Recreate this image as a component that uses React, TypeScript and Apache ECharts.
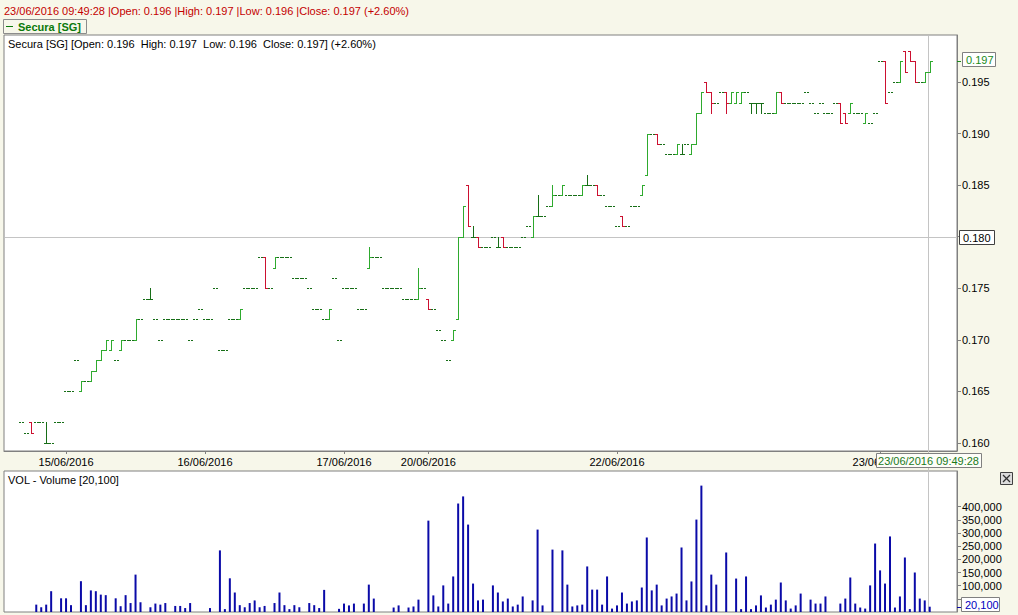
import React, { useEffect, useRef } from 'react';
import * as echarts from 'echarts';

// ---------- data ----------
const dayLabels = ['15/06/2016', '16/06/2016', '17/06/2016', '20/06/2016', '22/06/2016', '23/06/2016'];
const dayStartSlots = [9, 37, 65, 82, 120, 173];

const opens = [
  0.162, 0.161, 0.162, 0.162, 0.162, 0.160, 0.160, 0.162, 0.162, 0.165,
  0.165, 0.168, 0.165, 0.166, 0.166, 0.167, 0.168, 0.169, 0.169, 0.168,
  0.169, 0.170, 0.170, 0.170, 0.172, 0.174, 0.174, 0.172, 0.170, 0.172,
  0.172, 0.172, 0.172, 0.172, 0.170, 0.172, 0.173, 0.172, 0.172, 0.175,
  0.169, 0.169, 0.172, 0.172, 0.172, 0.175, 0.175, 0.175, 0.178, 0.178,
  0.175, 0.177, 0.178, 0.178, 0.178, 0.176, 0.176, 0.176, 0.175, 0.173,
  0.173, 0.172, 0.172, 0.176, 0.170, 0.175, 0.175, 0.175, 0.173, 0.173,
  0.177, 0.178, 0.178, 0.175, 0.175, 0.175, 0.175, 0.174, 0.174, 0.174,
  0.174, 0.175, 0.174, 0.173, 0.171, 0.170, 0.168, 0.170, 0.172, 0.180,
  0.185, 0.180, 0.180, 0.179, 0.179, 0.180, 0.179, 0.180, 0.179, 0.179,
  0.179, 0.180, 0.181, 0.180, 0.182, 0.182, 0.183, 0.183, 0.184, 0.184,
  0.184, 0.184, 0.184, 0.184, 0.185, 0.185, 0.185, 0.184, 0.183, 0.183,
  0.181, 0.182, 0.181, 0.183, 0.183, 0.184, 0.186, 0.190, 0.190, 0.189,
  0.188, 0.188, 0.188, 0.188, 0.189, 0.188, 0.189, 0.192, 0.195, 0.194,
  0.193, 0.194, 0.194, 0.193, 0.193, 0.193, 0.194, 0.193, 0.193, 0.193,
  0.192, 0.192, 0.192, 0.194, 0.193, 0.193, 0.193, 0.193, 0.194, 0.193,
  0.192, 0.193, 0.192, 0.192, 0.193, 0.193, 0.192, 0.192, 0.192, 0.192,
  0.191, 0.191, 0.192, 0.197, 0.197, 0.194, 0.195, 0.195, 0.198, 0.198,
  0.197, 0.195, 0.195, 0.196,
];
const highs = [
  0.162, 0.161, 0.162, 0.162, 0.162, 0.162, 0.160, 0.162, 0.162, 0.165,
  0.165, 0.168, 0.166, 0.166, 0.167, 0.168, 0.169, 0.170, 0.170, 0.168,
  0.170, 0.170, 0.170, 0.172, 0.172, 0.174, 0.175, 0.172, 0.170, 0.172,
  0.172, 0.172, 0.172, 0.172, 0.170, 0.172, 0.173, 0.172, 0.172, 0.175,
  0.169, 0.169, 0.172, 0.172, 0.173, 0.175, 0.175, 0.175, 0.178, 0.178,
  0.175, 0.178, 0.178, 0.178, 0.178, 0.176, 0.176, 0.176, 0.175, 0.173,
  0.173, 0.172, 0.173, 0.176, 0.170, 0.175, 0.175, 0.175, 0.173, 0.173,
  0.179, 0.178, 0.178, 0.175, 0.175, 0.175, 0.175, 0.174, 0.174, 0.174,
  0.177, 0.175, 0.174, 0.173, 0.171, 0.170, 0.168, 0.171, 0.180, 0.183,
  0.185, 0.181, 0.180, 0.179, 0.179, 0.180, 0.180, 0.180, 0.179, 0.179,
  0.179, 0.180, 0.181, 0.182, 0.184, 0.182, 0.183, 0.185, 0.184, 0.185,
  0.184, 0.184, 0.184, 0.185, 0.186, 0.185, 0.185, 0.184, 0.183, 0.183,
  0.181, 0.182, 0.181, 0.183, 0.183, 0.185, 0.190, 0.190, 0.190, 0.189,
  0.188, 0.188, 0.189, 0.189, 0.189, 0.189, 0.192, 0.194, 0.195, 0.194,
  0.193, 0.194, 0.194, 0.194, 0.194, 0.194, 0.194, 0.193, 0.193, 0.193,
  0.192, 0.192, 0.194, 0.194, 0.193, 0.193, 0.193, 0.193, 0.194, 0.193,
  0.192, 0.193, 0.192, 0.192, 0.193, 0.193, 0.192, 0.193, 0.192, 0.192,
  0.192, 0.191, 0.192, 0.197, 0.197, 0.194, 0.195, 0.197, 0.198, 0.198,
  0.197, 0.195, 0.196, 0.197,
];
const lows = [
  0.162, 0.161, 0.161, 0.162, 0.162, 0.160, 0.160, 0.162, 0.162, 0.165,
  0.165, 0.168, 0.165, 0.166, 0.166, 0.167, 0.168, 0.169, 0.169, 0.168,
  0.169, 0.170, 0.170, 0.170, 0.172, 0.174, 0.174, 0.172, 0.170, 0.172,
  0.172, 0.172, 0.172, 0.172, 0.170, 0.172, 0.173, 0.172, 0.172, 0.175,
  0.169, 0.169, 0.172, 0.172, 0.172, 0.175, 0.175, 0.175, 0.178, 0.175,
  0.175, 0.177, 0.178, 0.178, 0.178, 0.176, 0.176, 0.176, 0.175, 0.173,
  0.173, 0.172, 0.172, 0.176, 0.170, 0.175, 0.175, 0.175, 0.173, 0.173,
  0.177, 0.178, 0.178, 0.175, 0.175, 0.175, 0.175, 0.174, 0.174, 0.174,
  0.174, 0.175, 0.173, 0.173, 0.171, 0.170, 0.168, 0.170, 0.172, 0.180,
  0.181, 0.180, 0.179, 0.179, 0.179, 0.180, 0.179, 0.179, 0.179, 0.179,
  0.179, 0.180, 0.181, 0.180, 0.182, 0.182, 0.183, 0.183, 0.184, 0.184,
  0.184, 0.184, 0.184, 0.184, 0.185, 0.185, 0.184, 0.184, 0.183, 0.183,
  0.181, 0.181, 0.181, 0.183, 0.183, 0.184, 0.186, 0.190, 0.189, 0.189,
  0.188, 0.188, 0.188, 0.188, 0.189, 0.188, 0.189, 0.192, 0.194, 0.192,
  0.193, 0.194, 0.192, 0.193, 0.193, 0.193, 0.194, 0.192, 0.192, 0.192,
  0.192, 0.192, 0.192, 0.193, 0.193, 0.193, 0.193, 0.193, 0.194, 0.193,
  0.192, 0.193, 0.192, 0.192, 0.193, 0.191, 0.191, 0.192, 0.192, 0.192,
  0.191, 0.191, 0.192, 0.197, 0.193, 0.194, 0.195, 0.195, 0.196, 0.197,
  0.195, 0.195, 0.195, 0.196,
];
const closes = [
  0.162, 0.161, 0.161, 0.162, 0.162, 0.160, 0.160, 0.162, 0.162, 0.165,
  0.165, 0.168, 0.166, 0.166, 0.167, 0.168, 0.169, 0.170, 0.170, 0.168,
  0.170, 0.170, 0.170, 0.172, 0.172, 0.174, 0.174, 0.172, 0.170, 0.172,
  0.172, 0.172, 0.172, 0.172, 0.170, 0.172, 0.173, 0.172, 0.172, 0.175,
  0.169, 0.169, 0.172, 0.172, 0.173, 0.175, 0.175, 0.175, 0.178, 0.175,
  0.175, 0.178, 0.178, 0.178, 0.178, 0.176, 0.176, 0.176, 0.175, 0.173,
  0.173, 0.172, 0.173, 0.176, 0.170, 0.175, 0.175, 0.175, 0.173, 0.173,
  0.178, 0.178, 0.178, 0.175, 0.175, 0.175, 0.175, 0.174, 0.174, 0.174,
  0.175, 0.175, 0.173, 0.173, 0.171, 0.170, 0.168, 0.171, 0.180, 0.183,
  0.181, 0.180, 0.179, 0.179, 0.179, 0.180, 0.179, 0.179, 0.179, 0.179,
  0.179, 0.180, 0.181, 0.182, 0.182, 0.182, 0.183, 0.184, 0.184, 0.185,
  0.184, 0.184, 0.184, 0.185, 0.185, 0.185, 0.184, 0.184, 0.183, 0.183,
  0.181, 0.181, 0.181, 0.183, 0.183, 0.185, 0.190, 0.190, 0.189, 0.189,
  0.188, 0.188, 0.189, 0.188, 0.189, 0.189, 0.192, 0.194, 0.194, 0.193,
  0.193, 0.194, 0.193, 0.194, 0.194, 0.194, 0.194, 0.193, 0.193, 0.193,
  0.192, 0.192, 0.194, 0.193, 0.193, 0.193, 0.193, 0.193, 0.194, 0.193,
  0.192, 0.193, 0.192, 0.192, 0.193, 0.191, 0.191, 0.193, 0.192, 0.192,
  0.192, 0.191, 0.192, 0.197, 0.193, 0.194, 0.195, 0.197, 0.196, 0.197,
  0.195, 0.195, 0.196, 0.197,
];
const volumes = [
  0, 0, 0, 28000, 18000, 28000, 79000, 0, 52000, 52000,
  26000, 0, 117000, 26000, 82000, 79000, 66000, 64000, 0, 52000,
  22000, 64000, 34000, 142000, 37000, 0, 18000, 32000, 28000, 34000,
  0, 23000, 23000, 15000, 34000, 0, 0, 0, 15000, 0,
  234000, 11000, 128000, 74000, 26000, 18000, 34000, 44000, 18000, 23000,
  0, 34000, 74000, 26000, 11000, 26000, 18000, 0, 34000, 26000,
  15000, 84000, 0, 0, 12000, 32000, 25000, 32000, 0, 32000,
  104000, 51000, 0, 0, 0, 17000, 25000, 0, 17000, 21000,
  47000, 0, 347000, 63000, 21000, 101000, 32000, 135000, 412000, 439000,
  332000, 108000, 44000, 47000, 0, 101000, 74000, 40000, 51000, 21000,
  28000, 59000, 0, 44000, 313000, 25000, 0, 237000, 0, 234000,
  104000, 21000, 25000, 28000, 173000, 85000, 85000, 28000, 135000, 13000,
  25000, 74000, 32000, 40000, 44000, 93000, 283000, 82000, 104000, 25000,
  51000, 59000, 70000, 245000, 44000, 116000, 351000, 480000, 25000, 142000,
  104000, 0, 226000, 0, 127000, 11000, 135000, 11000, 25000, 63000,
  17000, 28000, 47000, 112000, 44000, 13000, 25000, 70000, 0, 47000,
  32000, 32000, 59000, 0, 0, 32000, 51000, 131000, 32000, 17000,
  13000, 101000, 260000, 158000, 108000, 287000, 17000, 59000, 207000, 11000,
  150000, 51000, 44000, 20100,
];
const priceTicks = [0.16, 0.165, 0.17, 0.175, 0.18, 0.185, 0.19, 0.195];
const volumeTicks = [50000, 100000, 150000, 200000, 250000, 300000, 350000, 400000];
const volumeLabelTicks = [100000, 150000, 200000, 250000, 300000, 350000, 400000];
const lastTime = '23/06/2016 09:49:28';
const changePct = '+2.60%';
const crosshairPrice = 0.18;
const stockName = 'Secura [SG]';

// ---------- layout / style ----------
const LEAD = 3;
const TRAIL = 5;
const FONT = '"Liberation Sans", Arial, sans-serif';
const UP = '#2eaa2e';
const DOWN = '#cc1030';
const FLAT = '#176e17';

const N = LEAD + opens.length + TRAIL;
const dayStartCats = dayStartSlots.map((s) => s + LEAD);
const categories = Array.from({ length: N }, (_, c) => {
  const s = c - LEAD;
  let lab = '14/06/2016';
  dayStartSlots.forEach((d, k) => {
    if (s >= d) lab = dayLabels[k];
  });
  return lab;
});
const ohlcData = opens.map((o, i) => [i + LEAD, o, highs[i], lows[i], closes[i]]);
const volData = categories.map((_, c) => {
  const s = c - LEAD;
  return s >= 0 && s < volumes.length ? volumes[s] : null;
});
const fmtInt = (v: number) => String(Math.round(v)).replace(/\B(?=(\d{3})+(?!\d))/g, ',');

export default function App() {
  const ref = useRef<HTMLDivElement>(null);
  useEffect(() => {
    if (!ref.current) return;
    const chart = echarts.init(ref.current, undefined, { renderer: 'svg' });
    const last = opens.length - 1;
    const o = opens[last].toFixed(3), h = highs[last].toFixed(3), l = lows[last].toFixed(3), c = closes[last].toFixed(3);
    const header = `${lastTime} |Open: ${o} |High: ${h} |Low: ${l} |Close: ${c} (${changePct})`;
    const inner = `${stockName} [Open: ${o}  High: ${h}  Low: ${l}  Close: ${c}] (${changePct})`;

    chart.setOption({
      animation: false,
      backgroundColor: 'transparent',
      grid: [
        { left: 4, top: 35, width: 953, height: 416, show: true, backgroundColor: '#ffffff', borderColor: '#808080', borderWidth: 1 },
        { left: 4, top: 471, width: 953, height: 141, show: true, backgroundColor: '#ffffff', borderColor: '#808080', borderWidth: 1 },
      ],
      xAxis: [
        {
          type: 'category', gridIndex: 0, data: categories, boundaryGap: true,
          axisLine: { show: true, lineStyle: { color: '#808080' } },
          axisTick: { show: true, alignWithLabel: true, length: 3, lineStyle: { color: '#808080' }, interval: (i: number) => dayStartCats.includes(i) },
          axisLabel: { interval: (i: number) => dayStartCats.includes(i), color: '#000', fontSize: 11, fontFamily: FONT, margin: 5 },
          splitLine: { show: false },
        },
        {
          type: 'category', gridIndex: 1, data: categories, boundaryGap: true,
          axisLine: { show: false }, axisTick: { show: false }, axisLabel: { show: false }, splitLine: { show: false },
        },
      ],
      yAxis: [
        {
          type: 'value', gridIndex: 0, position: 'right', min: 0.159224, max: 0.199558, scale: true,
          axisLine: { show: true, lineStyle: { color: '#808080' } },
          axisTick: { show: true, length: 4, lineStyle: { color: '#808080' }, customValues: priceTicks },
          axisLabel: { color: '#000', fontSize: 11, fontFamily: FONT, margin: 5, customValues: priceTicks, formatter: (v: number) => v.toFixed(3) },
          splitLine: { show: false },
        },
        {
          type: 'value', gridIndex: 1, position: 'right', min: 0, max: 535500,
          axisLine: { show: true, lineStyle: { color: '#808080' } },
          axisTick: { show: true, length: 4, lineStyle: { color: '#808080' }, customValues: volumeTicks },
          axisLabel: { color: '#000', fontSize: 11, fontFamily: FONT, margin: 5, customValues: volumeLabelTicks, formatter: (v: number) => fmtInt(v) },
          splitLine: { show: false },
        },
      ],
      series: [
        {
          type: 'custom', xAxisIndex: 0, yAxisIndex: 0, clip: true,
          encode: { x: 0, y: [1, 2, 3, 4] },
          data: ohlcData,
          renderItem: (params: any, api: any) => {
            const ci = api.value(0);
            const vo = api.value(1), vh = api.value(2), vl = api.value(3), vc = api.value(4);
            const pO = api.coord([ci, vo]);
            const yH = api.coord([ci, vh])[1];
            const yL = api.coord([ci, vl])[1];
            const yC = api.coord([ci, vc])[1];
            const color = vc > vo + 1e-9 ? UP : vc < vo - 1e-9 ? DOWN : FLAT;
            const px = Math.round(pO[0]);
            const r = (v: number) => Math.round(v) + 0.5;
            const st = { stroke: color, lineWidth: 1 };
            const children: any[] = [];
            if (vh > vl + 1e-9) {
              children.push({ type: 'line', shape: { x1: px + 0.5, y1: Math.round(yH), x2: px + 0.5, y2: Math.round(yL) + 1 }, style: st });
            }
            children.push({ type: 'line', shape: { x1: px - 2, y1: r(pO[1]), x2: px, y2: r(pO[1]) }, style: st });
            children.push({ type: 'line', shape: { x1: px + 1, y1: r(yC), x2: px + 3, y2: r(yC) }, style: st });
            return { type: 'group', children };
          },
        },
        {
          type: 'bar', xAxisIndex: 1, yAxisIndex: 1, data: volData, barWidth: 2,
          itemStyle: { color: '#0a0aa8' },
        },
      ],
    });

    const lastCat = last + LEAD;
    const [vx, hy] = chart.convertToPixel({ xAxisIndex: 0, yAxisIndex: 0 }, [lastCat, crosshairPrice]) as number[];
    const yClose = (chart.convertToPixel({ xAxisIndex: 0, yAxisIndex: 0 }, [lastCat, closes[last]]) as number[])[1];
    const yVol = (chart.convertToPixel({ xAxisIndex: 1, yAxisIndex: 1 }, [lastCat, volumes[last]]) as number[])[1];
    const cx = Math.round(vx) - 1.5;

    const boxText = (x: number, yc: number, w: number, text: string, stroke: string, fill: string) => ({
      type: 'group', z: 100,
      children: [
        { type: 'rect', shape: { x: x + 0.5, y: Math.round(yc - 7) + 0.5, width: w, height: 14 }, style: { fill: '#ffffff', stroke }, z: 100 },
        { type: 'text', x: x + 4, y: Math.round(yc) + 0.5, style: { text, fill, font: `11px ${FONT}`, verticalAlign: 'middle', align: 'left' }, z: 101 },
      ],
    });

    chart.setOption({
      graphic: [
        { type: 'text', x: 4, y: 11, style: { text: header, fill: '#c40000', font: `11px ${FONT}`, verticalAlign: 'middle' }, z: 100 },
        { type: 'rect', shape: { x: 3.5, y: 19.5, width: 83, height: 14 }, style: { fill: 'transparent', stroke: '#8c8c8c' }, z: 100 },
        { type: 'line', shape: { x1: 6, y1: 26.5, x2: 13, y2: 26.5 }, style: { stroke: '#0a7a0a', lineWidth: 1 }, z: 100 },
        { type: 'text', x: 18, y: 27, style: { text: stockName, fill: '#0a7a0a', font: `bold 11px ${FONT}`, verticalAlign: 'middle' }, z: 100 },
        { type: 'text', x: 8, y: 44, style: { text: inner, fill: '#000', font: `11px ${FONT}`, verticalAlign: 'middle' }, z: 100 },
        { type: 'text', x: 8, y: 480, style: { text: `VOL - Volume [${fmtInt(volumes[last])}]`, fill: '#000', font: `11px ${FONT}`, verticalAlign: 'middle' }, z: 100 },
        // crosshair
        { type: 'line', shape: { x1: cx, y1: 36, x2: cx, y2: 612 }, style: { stroke: '#c4c4c4', lineWidth: 1 }, z: 1 },
        { type: 'line', shape: { x1: 5, y1: Math.round(hy) + 0.5, x2: 957, y2: Math.round(hy) + 0.5 }, style: { stroke: '#c4c4c4', lineWidth: 1 }, z: 1 },
        // axis badges
        { type: 'line', shape: { x1: 957, y1: Math.round(yClose) + 0.5, x2: 961, y2: Math.round(yClose) + 0.5 }, style: { stroke: '#1a8a1a' }, z: 100 },
        boxText(962, yClose - 2, 33, closes[last].toFixed(3), '#808080', '#1a8a1a'),
        boxText(959, hy, 35, crosshairPrice.toFixed(3), '#404040', '#000000'),
        { type: 'line', shape: { x1: 957, y1: Math.round(yVol) + 0.5, x2: 961, y2: Math.round(yVol) + 0.5 }, style: { stroke: '#0a0aa8' }, z: 100 },
        boxText(961, yVol - 3, 38, fmtInt(volumes[last]), '#808080', '#0000c0'),
        // time badge
        {
          type: 'group', z: 100,
          children: [
            { type: 'rect', shape: { x: cx - 52, y: 453.5, width: 105, height: 14 }, style: { fill: '#fdfdf8', stroke: '#808080' }, z: 100 },
            { type: 'text', x: cx, y: 461, style: { text: lastTime, fill: '#1a7a1a', font: `11px ${FONT}`, align: 'center', verticalAlign: 'middle' }, z: 101 },
          ],
        },
        // close button
        {
          type: 'group', z: 100,
          children: [
            { type: 'rect', shape: { x: 1000.5, y: 472.5, width: 12, height: 12 }, style: { fill: '#dcdcdc', stroke: '#404040' } },
            { type: 'line', shape: { x1: 1003, y1: 475, x2: 1010, y2: 482 }, style: { stroke: '#303030', lineWidth: 1.2 } },
            { type: 'line', shape: { x1: 1010, y1: 475, x2: 1003, y2: 482 }, style: { stroke: '#303030', lineWidth: 1.2 } },
          ],
        },
      ],
    });

    return () => chart.dispose();
  }, []);

  return (
    <div style={{ position: 'fixed', left: 0, top: 0, width: 1018, height: 615, background: '#f7f7ea' }}>
      <div ref={ref} style={{ width: 1018, height: 615 }} />
    </div>
  );
}
